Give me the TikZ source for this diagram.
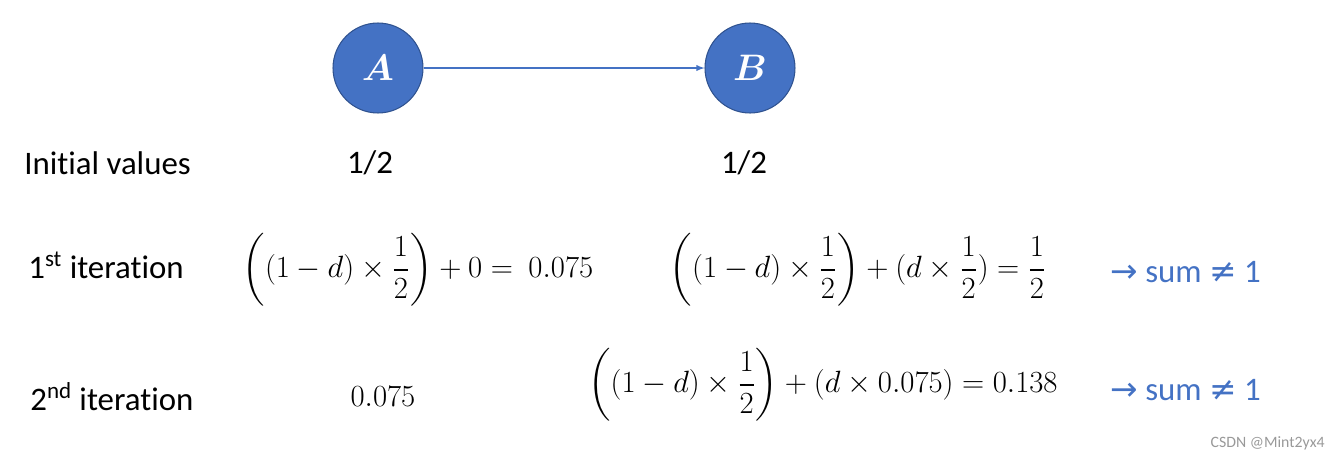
\RequirePackage{fix-cm}
\documentclass[tikz,border=0pt]{standalone}
\usepackage{amsmath}
\usepackage{fontspec}
\setmainfont{Carlito}[Ligatures=NoCommon]
\newfontfamily\symbfont{DejaVu Sans}
\usetikzlibrary{arrows}
\definecolor{nodeblue}{HTML}{4472C4}
\definecolor{nodeedge}{HTML}{2F528F}

\begin{document}
\begin{tikzpicture}[x=0.02cm,y=-0.02cm,
  vertex/.style={circle,draw=nodeedge,semithick,fill=nodeblue,minimum size=1.8cm,inner sep=0pt,text=white,font=\fontsize{21}{25}\selectfont},
  rowlabel/.style={font=\fontsize{18.7}{22}\selectfont,inner sep=0pt},
  formula/.style={font=\fontsize{17.5}{21}\selectfont,inner sep=0pt},
  sumnote/.style={rowlabel,text=nodeblue},
  mark text/.style={font=\fontsize{9}{11}\selectfont,text=black!40,inner sep=0pt}]

  \useasboundingbox (0,0) rectangle (1340,464);

  % the two pages
  \node[vertex] (A) at (378,68) {$\boldsymbol{A}$};
  \node[vertex] (B) at (750,68) {$\boldsymbol{B}$};
  \draw[->,>=latex,nodeblue,semithick] (A) -- (B);

  % initial values
  \node[rowlabel,anchor=west] (init) at (24,163) {Initial values};
  \node[rowlabel] (initA) at (370,163) {1/2};
  \node[rowlabel] (initB) at (744,163) {1/2};

  % first iteration
  \node[rowlabel,anchor=west] (first) at (28,265) {1\textsuperscript{st} iteration};
  \node[formula] (firstA) at (418,270)
    {$\left((1-d)\times\dfrac{1}{2}\right)+0=\ 0.075$};
  \node[formula] (firstB) at (858,270)
    {$\left((1-d)\times\dfrac{1}{2}\right)+(d\times\dfrac{1}{2})=\dfrac{1}{2}$};
  \node[sumnote,anchor=west] (firstsum) at (1110,272) {{\symbfont→} sum {\symbfont≠} 1};

  % second iteration
  \node[rowlabel,anchor=west] (second) at (30,397) {2\textsuperscript{nd} iteration};
  \node[formula] (secondA) at (383,397) {$0.075$};
  \node[formula] (secondB) at (823,385)
    {$\left((1-d)\times\dfrac{1}{2}\right)+(d\times0.075)=0.138$};
  \node[sumnote,anchor=west] (secondsum) at (1110,390) {{\symbfont→} sum {\symbfont≠} 1};

  \node[mark text,anchor=east] (mark) at (1325,443) {CSDN @Mint2yx4};
\end{tikzpicture}
\end{document}
